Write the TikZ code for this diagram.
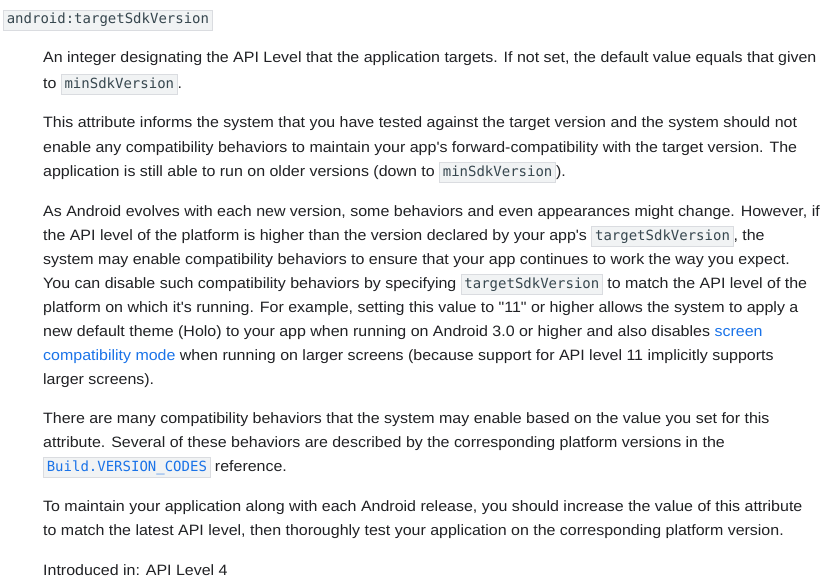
\documentclass[tikz,border=0pt]{standalone}
\usepackage{fontspec}
\defaultfontfeatures[\rmfamily]{}
\setmainfont{Liberation Sans}[FakeStretch=1.065]
\setmonofont{DejaVu Sans Mono}
\definecolor{txt}{HTML}{202124}
\definecolor{lnk}{HTML}{1A73E8}
\definecolor{cbg}{HTML}{F1F3F4}
\definecolor{cbd}{HTML}{DADCE0}
\definecolor{ctx}{HTML}{37474F}
\newcommand{\q}{\symbol{34}}
\newcommand{\ap}{\symbol{39}}
\newcommand{\cd}[1]{{\setlength{\fboxsep}{3pt}\setlength{\fboxrule}{0.6pt}\fcolorbox{cbd}{cbg}{\color{ctx}\ttfamily\fontsize{14}{15}\selectfont\vphantom{Ag}#1}}}
\newcommand{\cl}[1]{{\setlength{\fboxsep}{3pt}\setlength{\fboxrule}{0.6pt}\fcolorbox{cbd}{cbg}{\color{lnk}\ttfamily\fontsize{14}{15}\selectfont\vphantom{Ag}#1}}}
\begin{document}
\begin{tikzpicture}[x=1pt,y=-1pt,
  ln/.style={anchor=base west,inner sep=0pt,text=txt,font=\fontsize{15}{17}\selectfont}]
\useasboundingbox (0,0) rectangle (821,586);
\node[ln] (t) at (3,24) {\cd{android:targetSdkVersion}};
\node[ln] (a1) at (43,63) {An integer designating the API Level that the application targets. If not set, the default value equals that given};
\node[ln] (a2) at (43,88) {to \cd{minSdkVersion}.};
\node[ln] (b1) at (43,127) {This attribute informs the system that you have tested against the target version and the system should not};
\node[ln] (b2) at (43,152) {enable any compatibility behaviors to maintain your app\ap s forward-compatibility with the target version. The};
\node[ln] (b3) at (43,176) {application is still able to run on older versions (down to \cd{minSdkVersion}).};
\node[ln] (c1) at (43,216) {As Android evolves with each new version, some behaviors and even appearances might change. However, if};
\node[ln] (c2) at (43,240) {the API level of the platform is higher than the version declared by your app\ap s \cd{targetSdkVersion}, the};
\node[ln] (c3) at (43,264) {system may enable compatibility behaviors to ensure that your app continues to work the way you expect.};
\node[ln] (c4) at (43,288) {You can disable such compatibility behaviors by specifying \cd{targetSdkVersion} to match the API level of the};
\node[ln] (c5) at (43,312) {platform on which it\ap s running. For example, setting this value to \q11\q{} or higher allows the system to apply a};
\node[ln] (c6) at (43,336) {new default theme (Holo) to your app when running on Android 3.0 or higher and also disables \textcolor{lnk}{screen}};
\node[ln] (c7) at (43,360) {\textcolor{lnk}{compatibility mode} when running on larger screens (because support for API level 11 implicitly supports};
\node[ln] (c8) at (43,384) {larger screens).};
\node[ln] (d1) at (43,423) {There are many compatibility behaviors that the system may enable based on the value you set for this};
\node[ln] (d2) at (43,447) {attribute. Several of these behaviors are described by the corresponding platform versions in the};
\node[ln] (d3) at (43,471) {\cl{Build.VERSION\_CODES} reference.};
\node[ln] (e1) at (43,511) {To maintain your application along with each Android release, you should increase the value of this attribute};
\node[ln] (e2) at (43,535) {to match the latest API level, then thoroughly test your application on the corresponding platform version.};
\node[ln] (f1) at (43,575) {Introduced in: API Level 4};
\end{tikzpicture}
\end{document}
